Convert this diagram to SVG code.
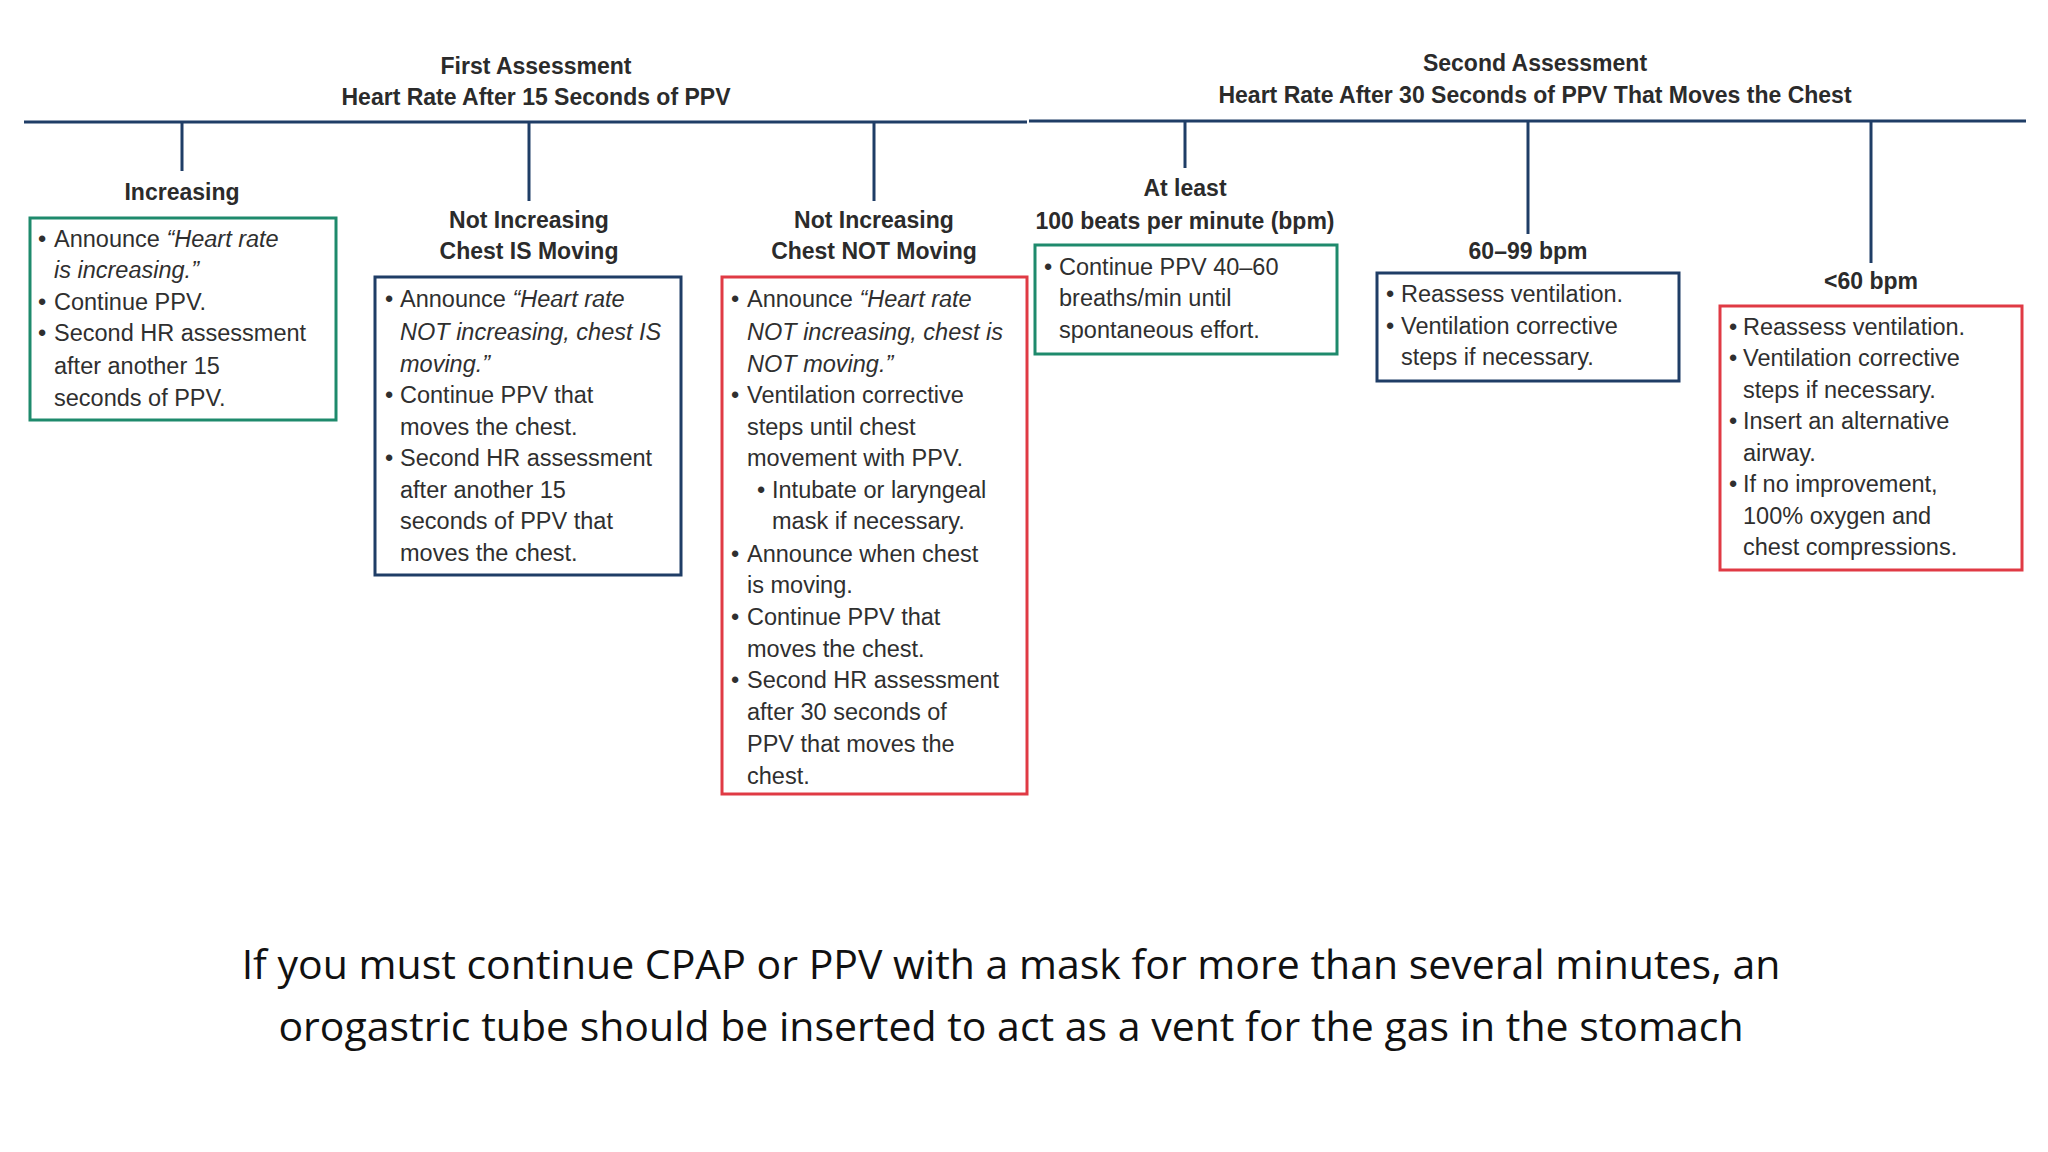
<svg xmlns="http://www.w3.org/2000/svg" width="2048" height="1152" viewBox="0 0 2048 1152">
<style>
.h{font-family:"Liberation Sans",Arial,sans-serif;font-weight:bold;font-size:23px;fill:#2b2b2b;text-anchor:middle}
.t{font-family:"Liberation Sans",Arial,sans-serif;font-size:23.5px;fill:#2f2f2f}
.i{font-style:italic}
.ln{stroke:#1f3d66;stroke-width:3;fill:none}
.g{fill:#fff;stroke:#1e8a6c;stroke-width:3}
.b{fill:#fff;stroke:#1f3d66;stroke-width:3}
.r{fill:#fff;stroke:#e03a44;stroke-width:3}
.f{font-family:"Open Sans","Liberation Sans",sans-serif;font-size:41px;fill:#111;text-anchor:middle}
</style>
<rect width="2048" height="1152" fill="#fff"/>
<g id="connectors">
<line class="ln" x1="24" y1="122" x2="1027" y2="122"/>
<line class="ln" x1="1029" y1="121" x2="2026" y2="121"/>
<line class="ln" x1="182" y1="122" x2="182" y2="171"/>
<line class="ln" x1="529" y1="122" x2="529" y2="201"/>
<line class="ln" x1="874" y1="122" x2="874" y2="201"/>
<line class="ln" x1="1185" y1="121" x2="1185" y2="168"/>
<line class="ln" x1="1528" y1="121" x2="1528" y2="234"/>
<line class="ln" x1="1871" y1="121" x2="1871" y2="263"/>
</g>
<g id="header1"><text class="h" x="536" y="74">First Assessment</text><text class="h" x="536" y="105">Heart Rate After 15 Seconds of PPV</text></g>
<g id="header2"><text class="h" x="1535" y="71">Second Assessment</text><text class="h" x="1535" y="103">Heart Rate After 30 Seconds of PPV That Moves the Chest</text></g>
<g id="n1">
<text class="h" x="182" y="200">Increasing</text>
<rect class="g" x="30" y="218" width="306" height="202"/>
<text class="t"><tspan x="38" y="247">•</tspan><tspan x="54" y="247">Announce <tspan class="i">“Heart rate</tspan></tspan><tspan x="54" y="278" class="i">is increasing.”</tspan><tspan x="38" y="310">•</tspan><tspan x="54" y="310">Continue PPV.</tspan><tspan x="38" y="341">•</tspan><tspan x="54" y="341">Second HR assessment</tspan><tspan x="54" y="374">after another 15</tspan><tspan x="54" y="406">seconds of PPV.</tspan></text>
</g>
<g id="n2">
<text class="h" x="529" y="228">Not Increasing</text><text class="h" x="529" y="259">Chest IS Moving</text>
<rect class="b" x="375" y="277" width="306" height="298"/>
<text class="t"><tspan x="385" y="307">•</tspan><tspan x="400" y="307">Announce <tspan class="i">“Heart rate</tspan></tspan><tspan x="400" y="340" class="i">NOT increasing, chest IS</tspan><tspan x="400" y="372" class="i">moving.”</tspan><tspan x="385" y="403">•</tspan><tspan x="400" y="403">Continue PPV that</tspan><tspan x="400" y="435">moves the chest.</tspan><tspan x="385" y="466">•</tspan><tspan x="400" y="466">Second HR assessment</tspan><tspan x="400" y="498">after another 15</tspan><tspan x="400" y="529">seconds of PPV that</tspan><tspan x="400" y="561">moves the chest.</tspan></text>
</g>
<g id="n3">
<text class="h" x="874" y="228">Not Increasing</text><text class="h" x="874" y="259">Chest NOT Moving</text>
<rect class="r" x="722" y="277" width="305" height="517"/>
<text class="t"><tspan x="731" y="307">•</tspan><tspan x="747" y="307">Announce <tspan class="i">“Heart rate</tspan></tspan><tspan x="747" y="340" class="i">NOT increasing, chest is</tspan><tspan x="747" y="372" class="i">NOT moving.”</tspan><tspan x="731" y="403">•</tspan><tspan x="747" y="403">Ventilation corrective</tspan><tspan x="747" y="435">steps until chest</tspan><tspan x="747" y="466">movement with PPV.</tspan><tspan x="757" y="498">•</tspan><tspan x="772" y="498">Intubate or laryngeal</tspan><tspan x="772" y="529">mask if necessary.</tspan><tspan x="731" y="562">•</tspan><tspan x="747" y="562">Announce when chest</tspan><tspan x="747" y="593">is moving.</tspan><tspan x="731" y="625">•</tspan><tspan x="747" y="625">Continue PPV that</tspan><tspan x="747" y="657">moves the chest.</tspan><tspan x="731" y="688">•</tspan><tspan x="747" y="688">Second HR assessment</tspan><tspan x="747" y="720">after 30 seconds of</tspan><tspan x="747" y="752">PPV that moves the</tspan><tspan x="747" y="784">chest.</tspan></text>
</g>
<g id="n4">
<text class="h" x="1185" y="196">At least</text><text class="h" x="1185" y="229">100 beats per minute (bpm)</text>
<rect class="g" x="1035" y="245" width="302" height="109"/>
<text class="t"><tspan x="1044" y="275">•</tspan><tspan x="1059" y="275">Continue PPV 40–60</tspan><tspan x="1059" y="306">breaths/min until</tspan><tspan x="1059" y="338">spontaneous effort.</tspan></text>
</g>
<g id="n5">
<text class="h" x="1528" y="259">60–99 bpm</text>
<rect class="b" x="1377" y="273" width="302" height="108"/>
<text class="t"><tspan x="1386" y="302">•</tspan><tspan x="1401" y="302">Reassess ventilation.</tspan><tspan x="1386" y="334">•</tspan><tspan x="1401" y="334">Ventilation corrective</tspan><tspan x="1401" y="365">steps if necessary.</tspan></text>
</g>
<g id="n6">
<text class="h" x="1871" y="289">&lt;60 bpm</text>
<rect class="r" x="1720" y="306" width="302" height="264"/>
<text class="t"><tspan x="1729" y="335">•</tspan><tspan x="1743" y="335">Reassess ventilation.</tspan><tspan x="1729" y="366">•</tspan><tspan x="1743" y="366">Ventilation corrective</tspan><tspan x="1743" y="398">steps if necessary.</tspan><tspan x="1729" y="429">•</tspan><tspan x="1743" y="429">Insert an alternative</tspan><tspan x="1743" y="461">airway.</tspan><tspan x="1729" y="492">•</tspan><tspan x="1743" y="492">If no improvement,</tspan><tspan x="1743" y="524">100% oxygen and</tspan><tspan x="1743" y="555">chest compressions.</tspan></text>
</g>
<g id="footer">
<text class="f" x="1011" y="979">If you must continue CPAP or PPV with a mask for more than several minutes, an</text>
<text class="f" x="1011" y="1041">orogastric tube should be inserted to act as a vent for the gas in the stomach</text>
</g>
</svg>
